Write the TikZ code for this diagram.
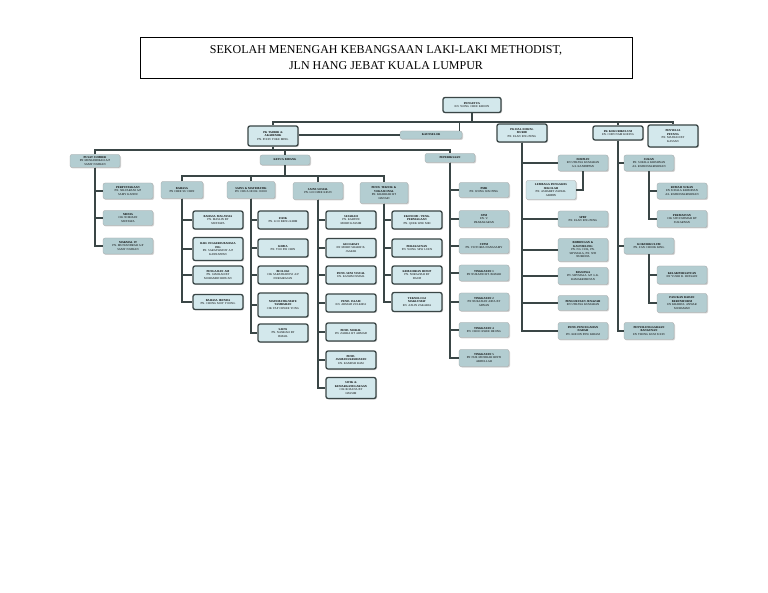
\documentclass[tikz,border=0pt]{standalone}
\usepackage{fontspec}
\setmainfont{Liberation Serif}
\usetikzlibrary{shadows}
\definecolor{pfill}{HTML}{B3CDD1}
\definecolor{bfill}{HTML}{D3E8EC}
\definecolor{lfill}{HTML}{CDE3E7}
\definecolor{lnc}{HTML}{3A4646}
\begin{document}
\begin{tikzpicture}[x=1pt,y=-1pt,
  base/.style={rounded corners=2pt,align=center,inner sep=1pt,
     font=\fontsize{2.9}{3.5}\selectfont,drop shadow={shadow xshift=1pt,shadow yshift=-1pt,opacity=0.35}},
  pl/.style={base,fill=pfill,draw=gray!70,line width=0.3pt,minimum width=50pt,text width=48pt},
  lt/.style={pl,fill=lfill},
  bd/.style={base,fill=bfill,draw=lnc,line width=1.3pt,minimum width=50pt,text width=47pt},
  ln/.style={draw=lnc,line width=1.2pt}]
\useasboundingbox (0,0) rectangle (768,593);
\fill[white] (0,0) rectangle (768,593);
% title
\node[draw,line width=0.6pt,minimum width=492pt,minimum height=41pt,align=center,font=\fontsize{12}{15.5}\selectfont] (title) at (386,57.5)
  {SEKOLAH MENENGAH KEBANGSAAN LAKI-LAKI METHODIST,\\JLN HANG JEBAT KUALA LUMPUR};
% top level
\node[bd,minimum width=58pt,text width=56pt,minimum height=15pt] (peng) at (472,105) {\textbf{PENGETUA}\\EN. WONG CHEE KHOON};
\node[bd,minimum height=20pt] (pkt) at (273,136) {\textbf{PK TADBIR \&\\AKADEMIK}\\PN. POON YOKE MING};
\node[pl,minimum width=62pt,text width=60pt,minimum height=8pt] (kaun) at (431,135) {\textbf{KAUNSELOR}};
\node[bd,minimum height=18pt] (pkhem) at (522,133) {\textbf{PK HAL EHWAL\\MURID}\\PN. ELAN ENG PENG};
\node[bd,minimum height=14pt] (pkko) at (618,133) {\textbf{PK KOKURIKULUM}\\EN. CHIN NAM KHONG};
\node[bd,minimum height=22pt] (pet) at (673,136) {\textbf{PENYELIA\\PETANG}\\PN. MASNAH BT\\KASSAN};
% level 2
\node[pl,minimum height=13pt] (pusat) at (95,161) {\textbf{PUSAT SUMBER}\\PN MUNIANDRAH A/P\\SAMY NATHAN};
\node[pl,minimum height=10pt] (kb) at (285,160) {\textbf{KETUA BIDANG}};
\node[pl,minimum height=9pt] (peper) at (450,158) {\textbf{PEPERIKSAAN}};
% pusat sumber
\node[pl,minimum height=16pt] (perp) at (128,191) {\textbf{PERPUSTAKAAN}\\PN. SELVARANI A/P\\SAMY KANDU};
\node[pl,minimum height=15pt] (media) at (128,218) {\textbf{MEDIA}\\CIK NORIZAN\\MUSTAFA};
\node[pl,minimum height=16pt] (mit) at (128,246) {\textbf{MAKMAL IT}\\PN. MUNIANDRAH A/P\\SAMY NATHAN};
% bidang
\node[pl,minimum width=42pt,text width=40pt,minimum height=17pt] (bhs) at (182,190) {\textbf{BAHASA}\\PN CHEE SU CHIN};
\node[pl,minimum width=48pt,text width=46pt,minimum height=17pt] (smt) at (251,190) {\textbf{SAINS \& MATEMATIK}\\PN. CHUA HOCK CHOO};
\node[pl,minimum height=17pt] (ss) at (318,191) {\textbf{SAINS SOSIAL}\\PN. LOO MEE KEUN};
\node[pl,minimum width=48pt,text width=46pt,minimum height=21pt] (ptv) at (384,193) {\textbf{PEND. TEKNIK \&\\VOKASIONAL}\\PN. KHAIRIAH BT\\HANAFI};
% bahasa
\node[bd,minimum height=18pt] (bm) at (218,220) {\textbf{BAHASA MALAYSIA}\\PN. MASLIN BT\\MUSTAPA};
\node[bd,minimum height=23pt] (bi) at (218,249) {\textbf{BAH. INGGERIS/BAHASA\\ING}\\PN. SARASWATHY A/P\\KANNAPPAN};
\node[bd,minimum height=18pt] (pa) at (218,275) {\textbf{PENGAJIAN AM}\\PN. JAMILAH BT\\MOHAMED RIDUAN};
\node[bd,minimum height=15pt] (bib) at (218,302) {\textbf{BAHASA IBUNDA}\\PN. CHONG MOY YOONG};
% sains mat
\node[bd,minimum height=18pt] (fiz) at (283,220) {\textbf{FIZIK}\\PN. LOO BENG KHIM};
\node[bd,minimum height=18pt] (kim) at (283,248) {\textbf{KIMIA}\\PN. TOO PEI CHIN};
\node[bd,minimum height=18pt] (bio) at (283,275) {\textbf{BIOLOGI}\\CIK SARATHADEVI A/P\\DURAIRAJAN};
\node[bd,minimum height=24pt] (mat) at (283,305) {\textbf{MATEMATIK/MATE\\TAMBAHAN}\\CIK YAP CHWEE YONG};
\node[bd,minimum height=18pt] (sains) at (283,333) {\textbf{SAINS}\\PN. NASRIAH BT\\ISMAIL};
% sains sosial
\node[bd,minimum height=18pt] (sej) at (351,220) {\textbf{SEJARAH}\\PN. KARTINI\\MOHD KASSIM};
\node[bd,minimum height=19pt] (geo) at (351,248) {\textbf{GEOGRAFI}\\EN MOHD SHARIF B.\\JAAFAR};
\node[bd,minimum height=18pt] (psv) at (351,275) {\textbf{PEND. SENI VISUAL}\\EN. KASSIM ISMAIL};
\node[bd,minimum height=18pt] (pi) at (351,303) {\textbf{PEND. ISLAM}\\EN. AHMAD ZULKIFLI};
\node[bd,minimum height=18pt] (pm) at (351,332) {\textbf{PEND. MORAL}\\PN. ZAHRA BT AHMAD};
\node[bd,minimum height=18pt] (pjk) at (351,360) {\textbf{PEND.\\JASMANI/KESIHATAN}\\EN. KAMESH RAM};
\node[bd,minimum height=21pt] (siv) at (351,388) {\textbf{SIVIK \&\\KEWARGANEGARAAN}\\CIK ROZANA BT\\HASSIM};
% teknik
\node[bd,minimum height=18pt] (eko) at (417,220) {\textbf{EKONOMI / PENG.\\PERNIAGAAN}\\PN. QUEK WEE MEI};
\node[bd,minimum height=18pt] (perak) at (417,248) {\textbf{PERAKAUNAN}\\PN. WONG SEW LUEN};
\node[bd,minimum height=18pt] (kh) at (417,275) {\textbf{KEMAHIRAN HIDUP}\\PN. NORAZIAH BT\\DAUD};
\node[bd,minimum height=19pt] (tm) at (417,302) {\textbf{TEKNOLOGI\\MAKLUMAT}\\EN. AZLIN ZAKARIA};
% peperiksaan
\node[pl,minimum height=15pt] (pmr) at (484,190) {\textbf{PMR}\\PN. WONG WAI PING};
\node[pl,minimum height=17pt] (spm) at (484,219) {\textbf{SPM}\\EN. V.\\PRABAKARAN};
\node[pl,minimum height=15pt] (stpm) at (484,246) {\textbf{STPM}\\PN. VICTORIA DANASAMY};
\node[pl,minimum height=16pt] (t1) at (484,273) {\textbf{TINGKATAN 1}\\PN NURAZNI BT. BHASRI};
\node[pl,minimum height=18pt] (t2) at (484,302) {\textbf{TINGKATAN 2}\\PN NURAZIAN AIDA BT\\ADNAN};
\node[pl,minimum height=15pt] (t4) at (484,330) {\textbf{TINGKATAN 4}\\PN. CHOO KWEE HEONG};
\node[pl,minimum height=17pt] (t5) at (484,358) {\textbf{TINGKATAN 5}\\PN NUR MUNIRAH BINTI\\ABDULLAH};
% HEM
\node[pl,minimum height=16pt] (dis) at (583,163) {\textbf{DISIPLIN}\\EN UTHAYA KUMARAN\\A/L KANDIPPAN};
\node[lt,minimum height=19pt] (lps) at (551,190) {\textbf{LEMBAGA PENGAWAS\\SEKOLAH}\\PN. ASHABET ZAINAL\\ABIDIN};
\node[pl,minimum height=16pt] (spbt) at (583,219) {\textbf{SPBT}\\PN. ELAN ENG PENG};
\node[pl,minimum height=23pt] (bk) at (583,250) {\textbf{BIMBINGAN \&\\KAUNSELING}\\PN. NG CUIL, PN.\\SHYMALA, PN. SITI\\NURHIDA};
\node[pl,minimum height=17pt] (bias) at (583,276) {\textbf{BIASISWA}\\PN. SHYMALA A/P G.K.\\RAMAKRISHNAN};
\node[pl,minimum height=15pt] (jen) at (583,303) {\textbf{PENGURUSAN JENAZAH}\\EN UTHAYA KUMARAN};
\node[pl,minimum height=17pt] (ppd) at (583,331) {\textbf{PEND. PENCEGAHAN\\DADAH}\\PN. KHOON PEW KHIAM};
% koko
\node[pl,minimum height=16pt] (suk) at (649,163) {\textbf{SUKAN}\\PN. SOFALA KRISHNAN\\A/L RATHINAKRISHNAN};
\node[pl,minimum height=16pt] (koko) at (649,246) {\textbf{KOKURIKULUM}\\PN. ZAN CHOOK KING};
\node[pl,minimum height=17pt] (pbang) at (649,331) {\textbf{PENYELENGGARAAN\\BANGUNAN}\\EN THONG KUM SOON};
\node[pl,minimum height=16pt] (rs) at (682,191) {\textbf{RUMAH SUKAN}\\EN SOFALA KRISHNAN\\A/L RATHINAKRISHNAN};
\node[pl,minimum height=17pt] (perm) at (682,219) {\textbf{PERMAINAN}\\CIK SITI FATIMAH BT\\SUKARNAN};
\node[pl,minimum height=18pt] (kelab) at (682,275) {\textbf{KELAB/PERSATUAN}\\EN YUSRI B. HUSSAIN};
\node[pl,minimum height=19pt] (pbb) at (682,303) {\textbf{PASUKAN BADAN\\BERUNIFORM}\\EN KHAIRUL ANWAR\\MUHAMAD};
% connectors top
\draw[ln] (peng.south) -- (peng.south |- 0,122);
\draw[ln] (pkt.north) |- (pet.north |- 0,122) -- (pet.north);
\draw[ln] (pkhem.north) -- (pkhem.north |- 0,122);
\draw[ln] (pkko.north) -- (pkko.north |- 0,122);
\draw[ln] (kaun.north east) ++(-3,0) coordinate (kt) -- (kt |- 0,122);
\draw[ln] (pkt.east |- kaun.west) -- (kaun.west);
% level 2
\draw[ln] (pkt.south) -- (pkt.south |- 0,150);
\draw[ln] (pusat.north) |- (peper.north |- 0,150) -- (peper.north);
\draw[ln] (kb.north) -- (kb.north |- 0,150);
\draw[ln] (kb.south) -- (kb.south |- 0,176);
\draw[ln] (bhs.north) |- (ptv.north |- 0,176) -- (ptv.north);
\draw[ln] (smt.north) -- (smt.north |- 0,176);
\draw[ln] (ss.north) -- (ss.north |- 0,176);
% trees
\foreach \p/\c in {pusat/perp,pusat/media,pusat/mit,
  bhs/bm,bhs/bi,bhs/pa,bhs/bib,
  smt/fiz,smt/kim,smt/bio,smt/mat,smt/sains,
  ss/sej,ss/geo,ss/psv,ss/pi,ss/pm,ss/pjk,ss/siv,
  ptv/eko,ptv/perak,ptv/kh,ptv/tm,
  peper/pmr,peper/spm,peper/stpm,peper/t1,peper/t2,peper/t4,peper/t5,
  pkhem/dis,pkhem/spbt,pkhem/bk,pkhem/bias,pkhem/jen,pkhem/ppd,
  pkko/suk,pkko/koko,pkko/pbang,
  suk/rs,suk/perm,koko/kelab,koko/pbb}
  \draw[ln] (\p.south) |- (\c.west);
\draw[ln] (dis.south) |- (lps.east);
\end{tikzpicture}
\end{document}
